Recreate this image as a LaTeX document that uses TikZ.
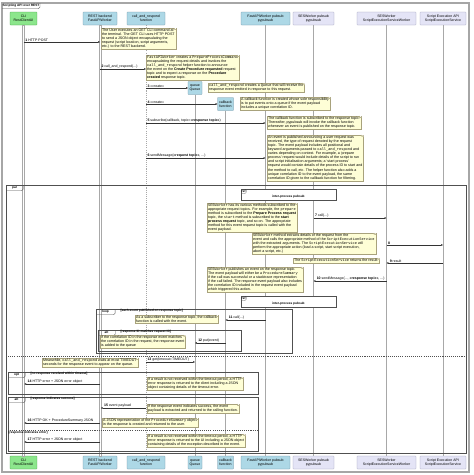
\documentclass[tikz,border=0pt]{standalone}
\usepackage{fontspec}
\setmainfont{Liberation Sans}
\setmonofont{Liberation Mono}
\usetikzlibrary{arrows.meta,positioning}

\definecolor{cliFill}{HTML}{8CE68C}
\definecolor{cliDraw}{HTML}{3E9E3E}
\definecolor{apiFill}{HTML}{ADD8E6}
\definecolor{apiDraw}{HTML}{6C8EA0}
\definecolor{sesFill}{HTML}{E4E4F6}
\definecolor{sesDraw}{HTML}{9B9BB5}
\definecolor{noteFill}{HTML}{FEFED6}
\definecolor{noteDraw}{HTML}{A8A27C}
\definecolor{lifeGray}{HTML}{A8A8A8}
\definecolor{frameGray}{HTML}{505050}

\tikzset{
  actor/.style={draw, rounded corners=1.5pt, align=center, inner sep=1pt, minimum height=1.3cm, font=\fontsize{10}{11.5}\selectfont, line width=0.6pt},
  cliactor/.style={actor, fill=cliFill, draw=cliDraw},
  apiactor/.style={actor, fill=apiFill, draw=apiDraw},
  sesactor/.style={actor, fill=sesFill, draw=sesDraw},
  lifeline/.style={lifeGray, line width=0.8pt},
  note/.style={draw=noteDraw, fill=noteFill, anchor=north west, align=left, inner xsep=3pt, inner ysep=2pt, font=\fontsize{10.3}{11.6}\selectfont, line width=0.5pt},
  msg/.style={-{Triangle[length=5pt,width=4.5pt]}, line width=0.6pt, black!80},
  msglbl/.style={anchor=south west, inner sep=1pt, font=\fontsize{10}{11}\selectfont, black},
  frame/.style={draw=frameGray, line width=0.8pt},
  tab/.style={anchor=north west, inner sep=1.5pt, minimum height=0.55cm, font=\bfseries\fontsize{9}{10}\selectfont},
  guard/.style={anchor=north west, inner sep=1.5pt, font=\bfseries\fontsize{9}{10}\selectfont},
}
% folded corner of a note
\newcommand{\fold}[1]{%
  \fill[white] ([xshift=-5pt]#1.north east) -- (#1.north east) -- ([yshift=-5pt]#1.north east) -- cycle;
  \draw[draw=noteDraw, fill=noteFill, line width=0.5pt] ([xshift=-5pt]#1.north east) -- ([xshift=-5pt,yshift=-5pt]#1.north east) -- ([yshift=-5pt]#1.north east) -- cycle;}
% pentagon tab of a frame
\newcommand{\tabshape}[1]{%
  \draw[frame] (#1.south west) -- ([xshift=-4pt]#1.south east) -- ([yshift=4pt]#1.south east) -- (#1.north east);}

\begin{document}
\begin{tikzpicture}[x=0.1cm,y=-0.1cm]
  \useasboundingbox (0,0) rectangle (474,475);
  \def\topY{18.5}   % header row
  \def\botY{462.5}  % footer row

  % outer frame and title
  \draw[gray!70, line width=3pt] (2,3) rectangle (469,472);
  \node[tab] (title) at (2,3) {Scripting API over REST};
  \tabshape{title}

  % participants, top and bottom
  \foreach \n/\s/\x/\w/\t in {cli/cliactor/23.5/2.7/{CLI\\RestClientUI},
      rest/apiactor/100/3.4/{REST backend\\FastAPIWorker},
      car/apiactor/146/3.8/{call\_and\_respond\\function},
      faps/apiactor/265.5/4.9/{FastAPIWorker pubsub\\pypubsub},
      seps/sesactor/313.5/4.1/{SESWorker pubsub\\pypubsub},
      ses/sesactor/386.5/5.9/{SESWorker\\ScriptExecutionServiceWorker},
      sea/sesactor/443/4.6/{Script Execution API\\ScriptExecutionService}} {
    \node[\s, minimum width=\w cm] (\n H) at (\x,\topY) {\t};
    \node[\s, minimum width=\w cm] (\n F) at (\x,\botY) {\t};
  }
  % created during the exchange
  \node[apiactor, minimum width=1.4cm] (queueH) at (195,88) {queue\\Queue};
  \node[apiactor, minimum width=1.4cm] (queueF) at (195,\botY) {queue\\Queue};
  \node[apiactor, minimum width=1.6cm] (cbH) at (225.5,104) {callback\\function};
  \node[apiactor, minimum width=1.6cm] (cbF) at (225.5,\botY) {callback\\function};

  % lifelines
  \foreach \n in {faps,seps,ses,sea,queue,cb}
    \draw[lifeline] (\n H.south) -- (\n F.north);
  \draw[lifeline, dashed] (carH.south) -- (carF.north);
  \foreach \n in {cli,rest}
    \draw[lifeline, fill=white] ([xshift=-2.5pt]\n H.south) rectangle ([xshift=2.5pt]\n F.north);

  % par frame with its two operands
  \draw[frame] (6,185) rectangle (466,453);
  \node[tab, minimum width=1.7cm] (parT) at (6,185) {par};
  \tabshape{parT}
  \draw[frame, dashed] (6,356) -- (466,356);

  % inter-process pubsub references
  \foreach \r/\y in {refA/189, refB/296} {
    \draw[frame, fill=white] (241,\y) rectangle (336,\y+11);
    \node[tab, minimum height=0.45cm] (\r T) at (241,\y) {ref};
    \tabshape{\r T}
    \node[font=\bfseries\fontsize{9}{10}\selectfont] (\r) at (288.5,\y+7.5) {inter-process pubsub};
  }

  % loop and nested alt
  \draw[frame] (96,309) rectangle (292,353);
  \node[tab, minimum width=1.9cm] (loopT) at (96,309) {loop};
  \tabshape{loopT}
  \node[guard] (loopG) at (120,309) {[each event published on response topic]};
  \draw[frame] (98,330) rectangle (241,351);
  \node[tab, minimum width=1.7cm] (altAT) at (98,330) {alt};
  \tabshape{altAT}
  \node[guard] (altAG) at (120,330) {[response ID matches request ID]};

  % opt: timeout
  \draw[frame] (8,372) rectangle (258,394);
  \node[tab, minimum width=1.7cm] (optT) at (8,372) {opt};
  \tabshape{optT}
  \node[guard] (optG) at (30,372) {[no response received within timeout]};

  % alt: success / error
  \draw[frame] (8,397) rectangle (258,451);
  \node[tab, minimum width=1.7cm] (altBT) at (8,397) {alt};
  \tabshape{altBT}
  \node[guard] (altBG) at (30,397) {[response indicates success]};
  \draw[frame, dashed] (8,430) -- (258,430);
  \node[guard] (altBE) at (8,430.5) {[response indicates error]};

  % messages
  \draw[msg] (cliH |- 0,42) -- (restH |- 0,42) node[msglbl, pos=0, xshift=4pt] {\textbf{1} HTTP POST};
  \draw[msg] (restH |- 0,69) -- (carH |- 0,69) node[msglbl, pos=0, xshift=3pt] {\textbf{2} call\_and\_respond(...)};
  \draw[msg] (carH |- queueH) -- (queueH.west) node[msglbl, pos=0, xshift=3pt] {\textbf{3} «create»};
  \draw[msg] (carH |- cbH) -- (cbH.west) node[msglbl, pos=0, xshift=3pt] {\textbf{4} «create»};
  \draw[msg] (carH |- 0,123) -- (fapsH |- 0,123) node[msglbl, pos=0, xshift=3pt] {\textbf{5} subscribe(callback, topic=\textbf{«response topic»})};
  \draw[msg] (carH |- 0,158) -- (fapsH |- 0,158) node[msglbl, pos=0, xshift=3pt] {\textbf{6} sendMessage(\textbf{«request topic»}, ...)};
  \draw[msg] (sepsH |- 0,218) -- (sesH |- 0,218) node[msglbl, pos=0, xshift=3pt] {\textbf{7} call(...)};
  \draw[msg] (sesH |- 0,245) -- (seaH |- 0,245) node[msglbl, pos=0, xshift=3pt] {\textbf{8}};
  \draw[msg] (seaH |- 0,263) -- (sesH |- 0,263) node[msglbl, pos=1, xshift=8pt] {\textbf{9} result};
  \draw[msg] (sesH |- 0,281) -- (sepsH |- 0,281) node[msglbl, pos=1, xshift=8pt] {\textbf{10} sendMessage(..., \textbf{«response topic»}, ...)};
  \draw[msg] (fapsH |- 0,320) -- (cbH |- 0,320) node[msglbl, pos=1, xshift=8pt] {\textbf{11} call(...)};
  \draw[msg] (cbH |- 0,343) -- (queueH |- 0,343) node[msglbl, pos=1, xshift=8pt] {\textbf{12} put(event)};
  \draw[msg] (carH |- 0,362) -- (queueH |- 0,362) node[msglbl, pos=0, xshift=3pt] {\textbf{13} get(timeout=TIMEOUT)};
  \draw[msg] (restH |- 0,384) -- ([xshift=2.5pt]cliH |- 0,384) node[msglbl, pos=1, xshift=8pt] {\textbf{14} HTTP error + JSON error object};
  \draw[msg] (carH |- 0,408) -- ([xshift=2.5pt]restH |- 0,408) node[msglbl, pos=1, xshift=8pt] {\textbf{15} event payload};
  \draw[msg] (restH |- 0,423) -- ([xshift=2.5pt]cliH |- 0,423) node[msglbl, pos=1, xshift=8pt] {\textbf{16} HTTP OK + ProcedureSummary JSON};
  \draw[msg] (restH |- 0,442) -- ([xshift=2.5pt]cliH |- 0,442) node[msglbl, pos=1, xshift=8pt] {\textbf{17} HTTP error + JSON error object};

  % notes
  \node[note] (n1) at (101,28) {The User executes an OET CLI command at\\ the terminal. The OET CLI uses HTTP POST\\ to send a JSON object encapsulating the\\ request (script location, script arguments,\\ etc.) to the REST backend.};
  \node[note] (n2) at (146,55) {\texttt{FastAPIWorker} creates a \texttt{PrepareProcessCommand}\\ encapsulating the request details and invokes the\\ \texttt{call\_and\_respond} helper function to announce\\ the event on the \textbf{Create Procedure requested} request\\ topic and to expect a response on the \textbf{Procedure}\\ \textbf{created} response topic.};
  \node[note] (n3) at (208,83) {\texttt{call\_and\_respond} creates a \texttt{Queue} that will receive the\\ response event emitted in response to this request.};
  \node[note] (n4) at (240,97) {A callback function is created whose sole responsibility\\ is to put events onto a queue if the event payload\\ includes a unique correlation ID.};
  \node[note] (n5) at (267,116) {The callback function is subscribed to the response topic.\\ Thereafter, pypubsub will invoke the callback function\\ whenever an event is published on the response topic.};
  \node[note] (n6) at (267,135) {An event is published announcing a user request was\\ received, the type of request denoted by the request\\ topic. The event payload includes all positional and\\ keyword arguments passed to \texttt{call\_and\_respond} and\\ varies depending on context. For example, a `prepare\\ process' request would include details of the script to run\\ and script initialisation arguments; a `start process'\\ request would contain details of the process ID to start and\\ the method to call, etc. The helper function also adds a\\ unique correlation ID to the event payload, the same\\ correlation ID given to the callback function for filtering.};
  \node[note] (n7) at (207,203) {\texttt{SESWorker} has its various methods subscribed to the\\ appropriate request topics. For example, the \texttt{prepare}\\ method is subscribed to the \textbf{Prepare Process request}\\ topic, the \texttt{start} method is subscribed to the \textbf{start}\\ \textbf{process request} topic, and so on. The appropriate\\ method for this event request topic is called with the\\ event payload.};
  \node[note] (n8) at (252,233) {\texttt{SESWorker} method extracts details of the request from the\\ event and calls the appropriate method of the \texttt{ScriptExecutionService}\\ with the extracted arguments. The \texttt{ScriptExecutionService} will\\ perform the appropriate action (load a script, start script execution,\\ abort a script, etc.)};
  \node[note] (n9) at (293,258) {The \texttt{ScriptExecutionService} returns the result.};
  \node[note] (n10) at (207,267) {\texttt{SESWorker} publishes an event on the response topic.\\ The event payload will either be a \texttt{ProcedureSummary}\\ if the call was successful or a stacktrace representation\\ if the call failed. The response event payload also includes\\ the correlation ID included in the request event payload\\ which triggered this action.};
  \node[note] (n11) at (135,315) {As a subscriber to the response topic, the callback\\ function is called with the event.};
  \node[note] (n12) at (100,335) {If the correlation ID in the response event matches\\ the correlation ID in the request, the response event\\ is added to the queue};
  \node[note] (n13) at (42,358) {Meanwhile, \texttt{call\_and\_respond} waits at most TIMEOUT\\ seconds for the response event to appear on the queue.};
  \node[note] (n14) at (147,377) {If a result is not received within the timeout period, a HTTP\\ error response is returned to the client including a JSON\\ object containing details of the timeout error.};
  \node[note] (n15) at (147,404) {If the response event indicates success, the event\\ payload is extracted and returned to the calling function.};
  \node[note] (n16) at (102,418) {A JSON representation of the \texttt{ProcedureSummary} object\\ in the response is created and returned to the user.};
  \node[note] (n17) at (147,434) {If a result is not received within the timeout period, a HTTP\\ error response is returned to the UI including a JSON object\\ containing details of the exception described in the event.};
  \foreach \n in {n1,n2,n3,n4,n5,n6,n7,n8,n9,n10,n11,n12,n13,n14,n15,n16,n17}{
    \fold{\n}
  }
\end{tikzpicture}
\end{document}
